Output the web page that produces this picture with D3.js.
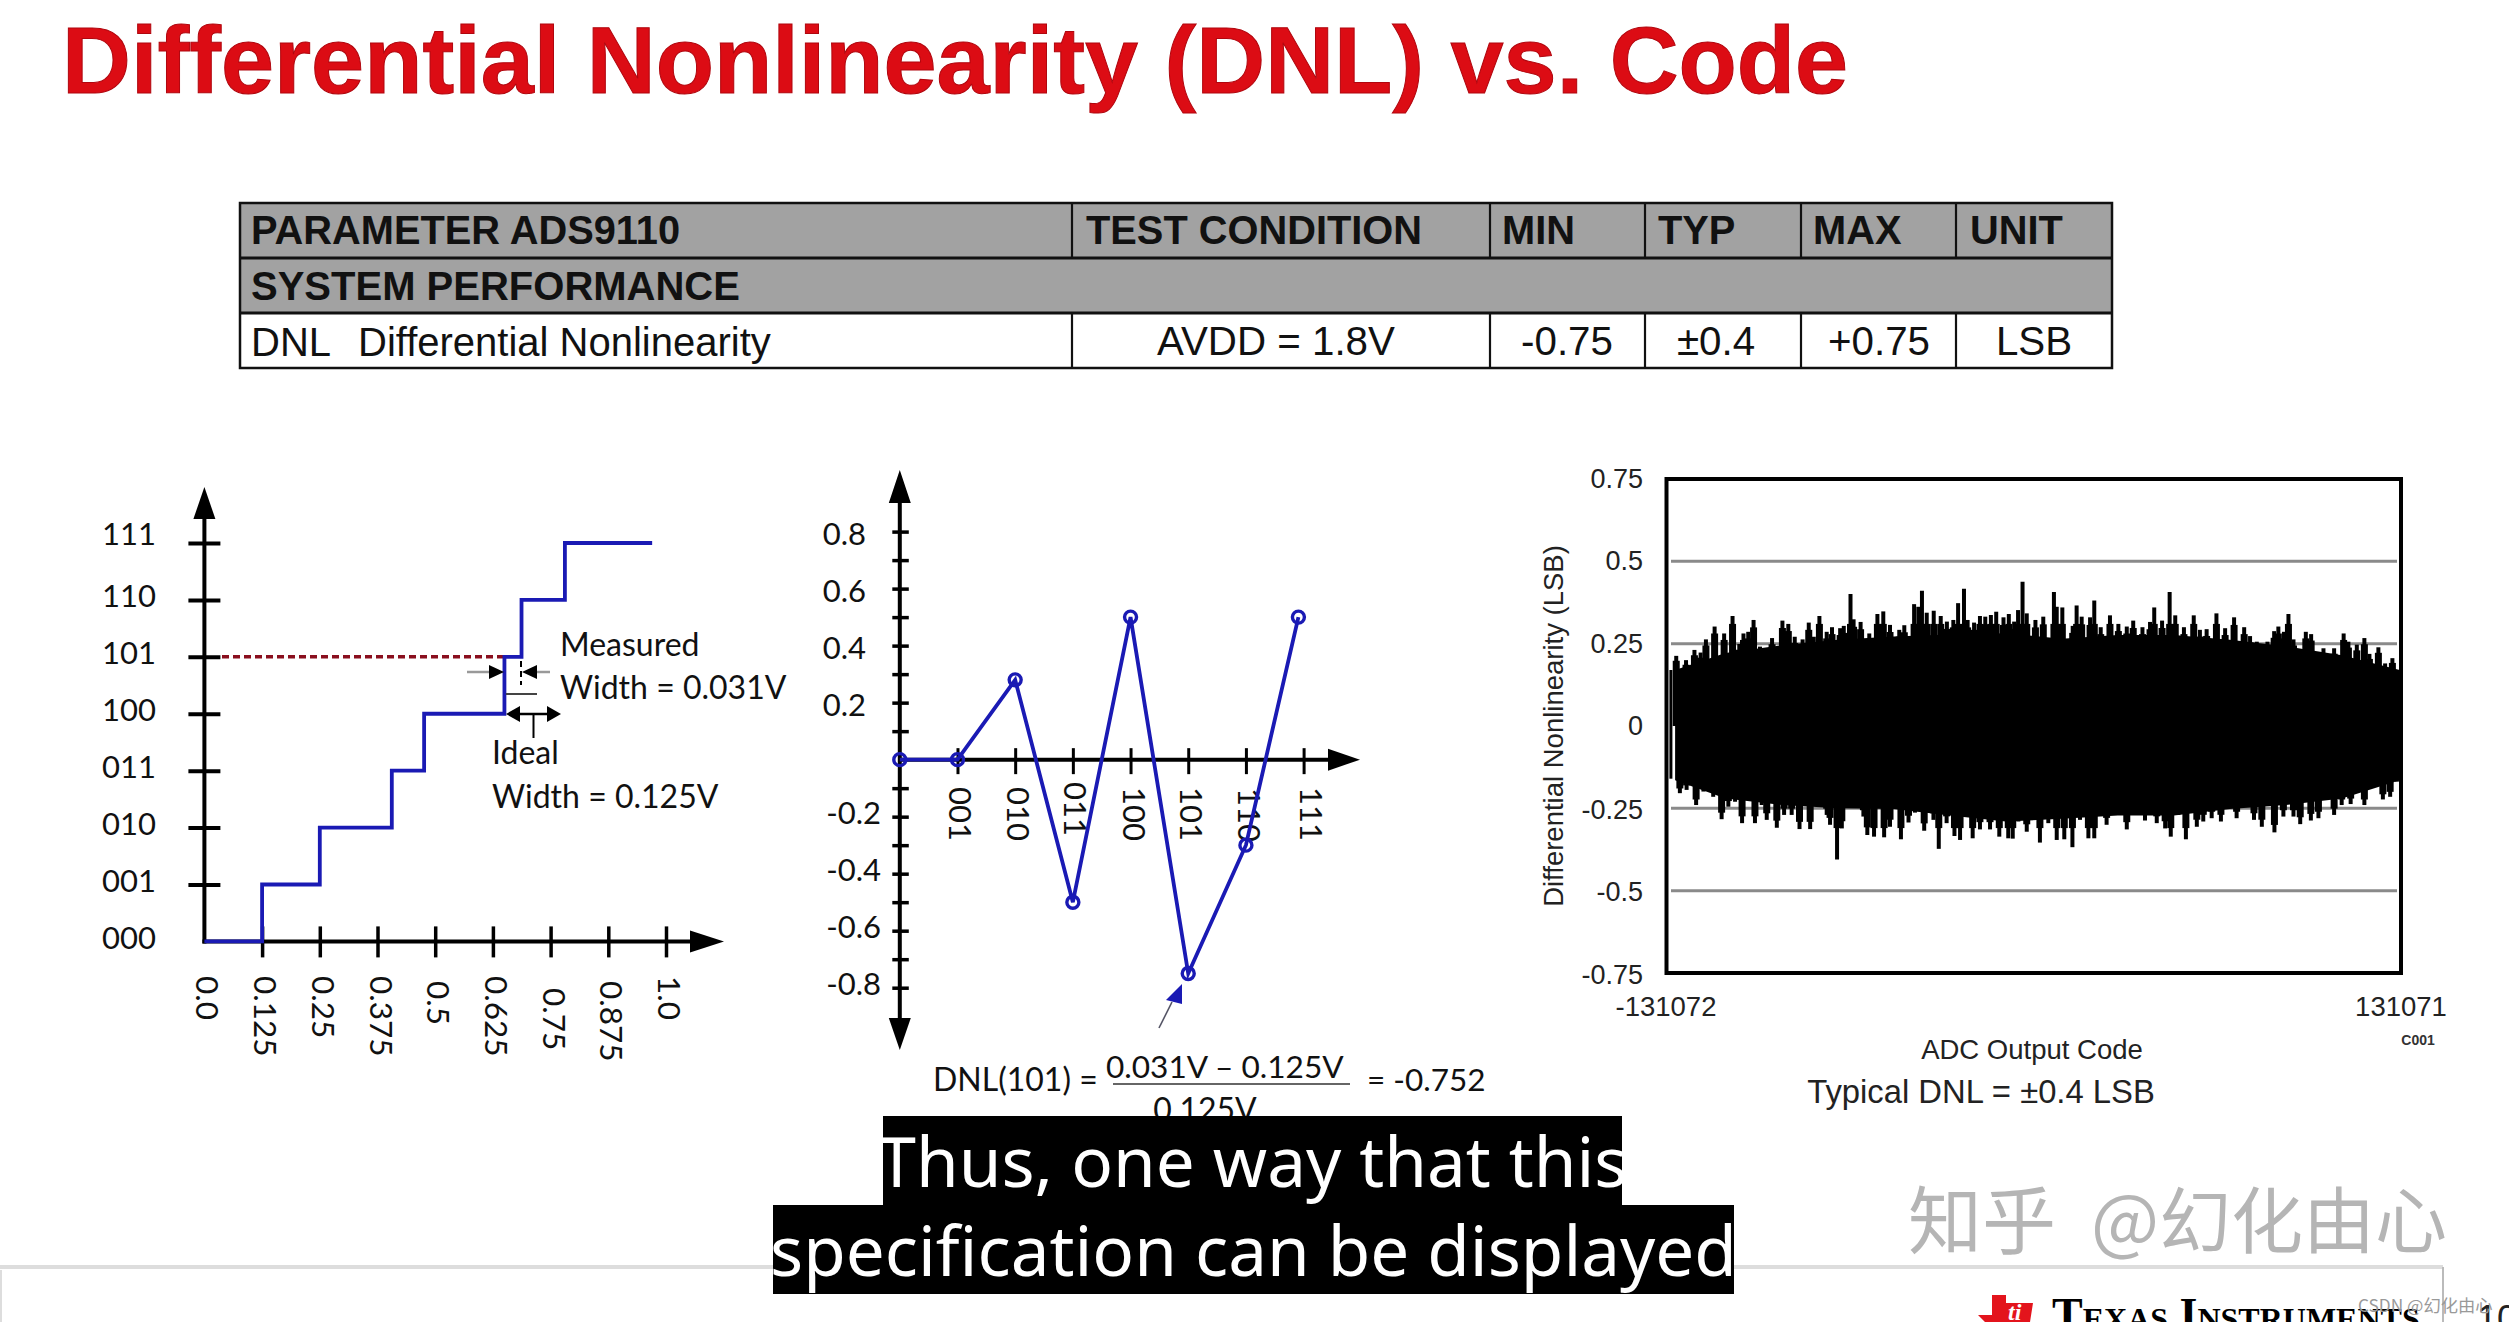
<!DOCTYPE html>
<html><head><meta charset="utf-8">
<script src="https://cdn.jsdelivr.net/npm/d3@7/dist/d3.min.js"></script>
<style>html,body{margin:0;padding:0;background:#fff;overflow:hidden}svg{display:block}</style>
</head><body><svg id="c" width="2509" height="1322"></svg>
<script>
// ---- text
const titleText = "Differential Nonlinearity (DNL) vs. Code";
const tableHeader = ["PARAMETER ADS9110","TEST CONDITION","MIN","TYP","MAX","UNIT"];
const tableSection = "SYSTEM PERFORMANCE";
const tableRow = ["DNL  Differential Nonlinearity","AVDD = 1.8V","-0.75","±0.4","+0.75","LSB"];
const subtitleLines = ["Thus, one way that this","specification can be displayed"];
// ---- transfer function (left chart)
const codeLabels = ["000","001","010","011","100","101","110","111"];
const voltTicks = [0,0.125,0.25,0.375,0.5,0.625,0.75,0.875,1.0];
const voltLabels = ["0.0","0.125","0.25","0.375","0.5","0.625","0.75","0.875","1.0"];
const stepVolts = [0,0.125,0.25,0.406,0.476,0.65,0.687,0.781,0.97];
const stepCodes = ["000","000","001","010","011","100","101","110","111"];
// ---- DNL vs code (middle chart)
const dnlCodes = ["000","001","010","011","100","101","110","111"];
const dnlPositions = [0,1,2,3,4,5,6,6.91];
const dnlValues = [0,0,0.28,-0.5,0.5,-0.75,-0.3,0.5];
const dnlMajor = [0.8,0.6,0.4,0.2,-0.2,-0.4,-0.6,-0.8];
const dnlMinor = [0.7,0.5,0.3,0.1,-0.1,-0.3,-0.5,-0.7];
// ---- measured DNL (right chart), codes in thousands
const mTicks = [0.75,0.5,0.25,0,-0.25,-0.5,-0.75];
const mTickLabels = ["0.75","0.5","0.25","0","-0.25","-0.5","-0.75"];
const mGrid = [0.5,0.25,-0.25,-0.5];
const bodyCodes = [-128,-110,-90,-70,-50,-30,-10,10,30,50,70,90,110,130.6];
const bodyUpper = [0.17,0.222,0.245,0.262,0.272,0.278,0.282,0.265,0.276,0.276,0.262,0.242,0.215,0.17];
const bodyLower = [-0.165,-0.22,-0.24,-0.25,-0.252,-0.272,-0.29,-0.282,-0.272,-0.272,-0.252,-0.24,-0.22,-0.165];
const edgeCode = -129.5, edgeTop = 0.17, edgeBottom = -0.16;
const upCodes = [-127.6,-127.4,-124.1,-121.1,-118.9,-117,-113.9,-110.5,-107.5,-105.1,-103.6,-101.9,-100,-97.7,-95.8,-93.4,-89.7,-87.6,-85.3,-82.5,-80.3,-78.5,-76.5,-73.9,-72,-69.1,-67.8,-65.4,-64.3,-61.8,-58.7,-55.8,-53.7,-51.3,-48,-46.2,-42.7,-41.2,-39.9,-38.2,-35.7,-33.2,-31,-28.7,-27,-24.9,-23.6,-21.3,-19.2,-17.3,-15.3,-13.4,-10.8,-8.9,-7,-5.6,-4,-2.5,0.6,3.4,7.2,8.2,10.2,13.9,15.3,17.1,20.1,21.6,23.9,27.2,30.2,33.2,35.5,38.8,41.5,43,45.8,48.5,50.5,53.6,57.1,59.3,61.7,65.2,68.3,71.5,75.1,77.2,79.6,83.4,85.8,87.3,89.3,90.9,92.7,97.1,99,103.4,107.2,110.6,112.3,115.3,118,119.8,123,125.4,128,130.2];
const upValues = [0.213,0.18,0.2,0.231,0.223,0.263,0.302,0.281,0.334,0.249,0.281,0.286,0.322,0.241,0.236,0.267,0.32,0.31,0.271,0.263,0.314,0.271,0.334,0.286,0.3,0.297,0.304,0.401,0.324,0.316,0.281,0.34,0.348,0.307,0.292,0.306,0.37,0.362,0.411,0.344,0.35,0.334,0.317,0.322,0.373,0.417,0.322,0.314,0.334,0.332,0.337,0.347,0.33,0.34,0.317,0.352,0.438,0.342,0.322,0.332,0.407,0.362,0.36,0.304,0.366,0.332,0.33,0.381,0.3,0.336,0.31,0.302,0.32,0.3,0.316,0.36,0.32,0.407,0.336,0.3,0.336,0.292,0.294,0.342,0.297,0.33,0.3,0.273,0.256,0.256,0.288,0.302,0.286,0.34,0.263,0.286,0.279,0.236,0.236,0.281,0.256,0.247,0.267,0.219,0.239,0.19,0.206,0.17];
const lowCodes = [-126.3,-123.9,-120.5,-117.9,-114.4,-111.4,-109,-106.6,-104.1,-101.9,-99.5,-97.1,-95.3,-91.7,-90.6,-89.1,-86.4,-83.6,-79.8,-77.7,-73.9,-72.7,-70.2,-68.5,-65,-60.8,-59.4,-57,-53.4,-51.3,-49.1,-47.4,-44.7,-42.4,-39.1,-35.8,-33.9,-31.1,-28.3,-26.3,-23.9,-21.8,-19.2,-15.6,-12.3,-9.1,-7.5,-5.5,-2.5,-1.3,2.2,5.2,8.2,10.9,13.8,16.5,19.5,21.6,23.6,26,29.6,33.2,37.3,39.7,43.9,46.9,48.9,51.6,54.3,55.8,58.2,60.5,63.5,65,66.8,72.4,74.8,78.6,81.4,83.8,85.9,87.9,89.1,92.7,95.1,97.8,98.9,101.6,105.2,107.2,109.9,111.1,113.1,118,121.5,124.6,127.2,129.6];
const lowValues = [-0.204,-0.194,-0.24,-0.199,-0.215,-0.283,-0.245,-0.23,-0.295,-0.22,-0.295,-0.24,-0.285,-0.309,-0.22,-0.27,-0.27,-0.313,-0.313,-0.235,-0.27,-0.3,-0.405,-0.311,-0.235,-0.275,-0.331,-0.336,-0.338,-0.306,-0.245,-0.344,-0.293,-0.263,-0.318,-0.285,-0.373,-0.295,-0.334,-0.346,-0.25,-0.341,-0.314,-0.314,-0.336,-0.341,-0.342,-0.29,-0.321,-0.255,-0.354,-0.295,-0.346,-0.344,-0.368,-0.285,-0.341,-0.341,-0.265,-0.3,-0.255,-0.314,-0.247,-0.287,-0.295,-0.311,-0.336,-0.27,-0.344,-0.235,-0.306,-0.29,-0.28,-0.225,-0.29,-0.28,-0.24,-0.285,-0.306,-0.23,-0.323,-0.23,-0.275,-0.275,-0.298,-0.215,-0.287,-0.28,-0.21,-0.27,-0.24,-0.194,-0.237,-0.24,-0.179,-0.223,-0.215,-0.169];

const svg = d3.select("#c");
const SANS = "'Liberation Sans',Arial,sans-serif", CAL = "Lato,sans-serif";
const BLUE = "#1a1ab4";
function text(g,s,x,y,size,opt={}){
  return g.append("text").text(s).attr("x",x).attr("y",y).attr("font-size",size)
    .attr("font-family",opt.font||SANS).attr("font-weight",opt.weight||"normal")
    .attr("fill",opt.fill||"#111").attr("text-anchor",opt.anchor||"start")
    .attr("dominant-baseline",opt.base||"central").style("white-space","pre");
}
function tri(g,pts,fill){g.append("path").attr("d",d3.line()(pts)+"Z").attr("fill",fill||"#000");}

// title
svg.append("text").text(titleText).attr("x",62).attr("y",92.5).attr("font-family",SANS)
  .attr("font-weight","bold").attr("font-size",95.4).attr("fill","#dc0c14")
  .attr("stroke","#b0060e").attr("stroke-width",1);

// table
const tb = svg.append("g");
const colX = [240,1072,1490,1645,1801,1956,2112];
const rowY = [203,258,313,368];
tb.append("rect").attr("x",colX[0]).attr("y",rowY[0]).attr("width",colX[6]-colX[0]).attr("height",rowY[2]-rowY[0]).attr("fill","#a2a2a2");
tb.append("rect").attr("x",colX[0]).attr("y",rowY[0]).attr("width",colX[6]-colX[0]).attr("height",rowY[3]-rowY[0]).attr("fill","none").attr("stroke","#111").attr("stroke-width",2.5);
rowY.slice(1,3).forEach(y=>tb.append("line").attr("x1",colX[0]).attr("x2",colX[6]).attr("y1",y).attr("y2",y).attr("stroke","#111").attr("stroke-width",3));
colX.slice(1,6).forEach(x=>{
  [[rowY[0],rowY[1]],[rowY[2],rowY[3]]].forEach(r=>tb.append("line").attr("x1",x).attr("x2",x).attr("y1",r[0]).attr("y2",r[1]).attr("stroke","#111").attr("stroke-width",2.2));
});
const hdrX = [251,1086,1502,1658,1813,1970];
tableHeader.forEach((s,i)=>text(tb,s,hdrX[i],230,39.8,{weight:"bold"}));
text(tb,tableSection,251,285.5,40,{weight:"bold"});
const rowFirst = tableRow[0].split("  ");
text(tb,rowFirst[0],251,341.5,40);
text(tb,rowFirst[1],358,341.5,40);
const rowCx = [0,1276,1567,1716,1879,2034];
tableRow.slice(1).forEach((s,i)=>text(tb,s,rowCx[i+1],341.5,40.3,{anchor:"middle"}));

// ---- left chart
const L = svg.append("g");
const lx = d3.scaleLinear().domain([0,1]).range([204.4,666]);
const ly = d3.scalePoint().domain(codeLabels).range([941.4,543]);
const lBlack = {stroke:"#000","stroke-width":4};
function styleLines(sel,a){Object.entries(a).forEach(([k,v])=>sel.attr(k,v));}
const lyAxis = L.append("g").attr("transform",`translate(${lx(0)},0)`).call(d3.axisLeft(ly).tickSize(0).tickFormat(""));
lyAxis.select(".domain").remove();
lyAxis.selectAll(".tick").filter(d=>d!=="000").select("line").attr("x1",-16).attr("x2",16).attr("stroke","#000").attr("stroke-width",4);
const lxAxis = L.append("g").attr("transform",`translate(0,${ly("000")})`).call(d3.axisBottom(lx).tickValues(voltTicks.slice(1)).tickSize(0).tickFormat(""));
lxAxis.select(".domain").remove();
lxAxis.selectAll(".tick line").attr("y1",-15).attr("y2",16).attr("stroke","#000").attr("stroke-width",3.5);
styleLines(L.append("line").attr("x1",lx(0)).attr("x2",lx(0)).attr("y1",ly("000")+2).attr("y2",518),lBlack);
styleLines(L.append("line").attr("x1",lx(0)-2).attr("x2",692).attr("y1",ly("000")).attr("y2",ly("000")),lBlack);
tri(L,[[lx(0),487],[lx(0)-11,519],[lx(0)+11,519]]);
tri(L,[[724,ly("000")],[690,ly("000")-11],[690,ly("000")+11]]);
const codeLabelDy = [-4,-4.5,-4.5,-4.5,-4.5,-4.5,-4.5,-10.5];
codeLabels.forEach((c,i)=>text(L,c,129,ly(c)+codeLabelDy[i],31,{font:CAL,anchor:"middle"}));
const vLabelY = [976,976,976,976,981,976,988,981,976];
voltLabels.forEach((s,i)=>{
  text(L,s,0,0,31.5,{font:CAL}).attr("x",null).attr("y",null)
   .attr("transform",`translate(${lx(voltTicks[i])+4},${vLabelY[i]}) rotate(90)`);
});
L.append("line").attr("x1",222).attr("x2",503).attr("y1",ly("101")).attr("y2",ly("101"))
 .attr("stroke","#8a0f1e").attr("stroke-width",3.5).attr("stroke-dasharray","7 4");
L.append("path").datum(stepVolts.map((v,i)=>[v,stepCodes[i]]))
 .attr("d",d3.line().x(d=>lx(d[0])).y(d=>ly(d[1])).curve(d3.curveStepBefore))
 .attr("fill","none").attr("stroke",BLUE).attr("stroke-width",3.8);
// width annotations
L.append("line").attr("x1",467).attr("x2",490).attr("y1",672).attr("y2",672).attr("stroke","#999").attr("stroke-width",2.5);
tri(L,[[504,672],[489,665],[489,679]]);
L.append("line").attr("x1",537).attr("x2",550).attr("y1",672).attr("y2",672).attr("stroke","#999").attr("stroke-width",2.5);
tri(L,[[522,672],[537,665],[537,679]]);
L.append("line").attr("x1",521).attr("x2",521).attr("y1",661).attr("y2",685).attr("stroke","#000").attr("stroke-width",2).attr("stroke-dasharray","6 4");
L.append("line").attr("x1",506).attr("x2",537).attr("y1",694).attr("y2",694).attr("stroke","#444").attr("stroke-width",2);
L.append("line").attr("x1",510).attr("x2",556).attr("y1",714).attr("y2",714).attr("stroke","#000").attr("stroke-width",2.5);
tri(L,[[506,714],[520,706],[520,722]]);
tri(L,[[561,714],[547,706],[547,722]]);
L.append("line").attr("x1",533.5).attr("x2",533.5).attr("y1",714).attr("y2",738).attr("stroke","#000").attr("stroke-width",2);
text(L,"Measured",560,643,32,{font:CAL});
text(L,"Width = 0.031V",560,686,32,{font:CAL});
text(L,"Ideal",492,751,32,{font:CAL});
text(L,"Width = 0.125V",492,795,32,{font:CAL});

// ---- middle chart
const M = svg.append("g");
const mx = d3.scalePoint().domain(dnlCodes).range([899.8,1303.6]);
const mPos = d3.scaleLinear().domain([0,7]).range([899.8,1303.6]);
const my = d3.scaleLinear().domain([0.8,-0.8]).range([531.6,987.7]);
const myAxis = M.append("g").attr("transform",`translate(${mx("000")},0)`)
  .call(d3.axisLeft(my).tickValues(dnlMajor.concat(dnlMinor)).tickSize(0).tickFormat(""));
myAxis.select(".domain").remove();
myAxis.selectAll(".tick line").attr("x1",-7.5).attr("x2",9).attr("stroke","#000").attr("stroke-width",3.5);
const mxAxis = M.append("g").attr("transform",`translate(0,${my(0)})`)
  .call(d3.axisBottom(mx).tickValues(dnlCodes.slice(1)).tickSize(0).tickFormat(""));
mxAxis.select(".domain").remove();
mxAxis.selectAll(".tick line").attr("y1",-11.5).attr("y2",14.5).attr("stroke","#000").attr("stroke-width",3);
styleLines(M.append("line").attr("x1",mx("000")).attr("x2",mx("000")).attr("y1",500).attr("y2",1020),lBlack);
styleLines(M.append("line").attr("x1",mx("000")).attr("x2",1330).attr("y1",my(0)).attr("y2",my(0)),lBlack);
tri(M,[[mx("000"),470],[mx("000")-11,503],[mx("000")+11,503]]);
tri(M,[[mx("000"),1050],[mx("000")-11,1018],[mx("000")+11,1018]]);
tri(M,[[1360,my(0)],[1328,my(0)-11],[1328,my(0)+11]]);
dnlMajor.forEach(v=>text(M,v.toFixed(1),v>0?866:881,my(v)+(v>0?1.5:-5),31,{font:CAL,anchor:"end"}));
const cLabelY = [0,787,787,782,787,787,788,787];
const cLabelDx = [0,4,4,3,4,4,4,8];
dnlCodes.slice(1).forEach((c,i)=>{
  text(M,c,0,0,31,{font:CAL}).attr("x",null).attr("y",null)
   .attr("transform",`translate(${mx(c)+cLabelDx[i+1]},${cLabelY[i+1]}) rotate(90)`);
});
M.append("path").datum(dnlValues).attr("d",d3.line().x((d,i)=>mPos(dnlPositions[i])).y(d=>my(d)))
 .attr("fill","none").attr("stroke",BLUE).attr("stroke-width",3.8);
M.selectAll("circle").data(dnlValues).join("circle").attr("cx",(d,i)=>mPos(dnlPositions[i])).attr("cy",d=>my(d))
 .attr("r",6).attr("fill","none").attr("stroke",BLUE).attr("stroke-width",3.4);
M.append("line").attr("x1",1159).attr("y1",1028).attr("x2",1172).attr("y2",1002).attr("stroke","#556").attr("stroke-width",1.6);
tri(M,[[1182,984],[1166,1000],[1182,1004]],BLUE);
// formula
text(M,"DNL(101) =",933,1078,32,{font:CAL});
text(M,"0.031V – 0.125V",1106,1066,31.6,{font:CAL});
M.append("line").attr("x1",1113).attr("x2",1350).attr("y1",1084).attr("y2",1084).attr("stroke","#666").attr("stroke-width",2);
text(M,"0.125V",1205,1108,32,{font:CAL,anchor:"middle"});
text(M,"= -0.752",1367,1079,31.5,{font:CAL});

// ---- right chart
const R = svg.append("g");
const rx = d3.scaleLinear().domain([-131.072,131.071]).range([1666.5,2401]);
const ry = d3.scaleLinear().domain([0.75,-0.75]).range([479,973]);
R.selectAll(".gr").data(mGrid).join("line").attr("x1",1671).attr("x2",2397)
 .attr("y1",d=>ry(d)).attr("y2",d=>ry(d)).attr("stroke","#8a8a8a").attr("stroke-width",3);
const area = d3.area().x((d,i)=>rx(bodyCodes[i])).y0((d,i)=>ry(bodyLower[i])).y1(d=>ry(d));
R.append("path").datum(bodyUpper).attr("d",area).attr("fill","#000");
R.append("line").attr("x1",rx(edgeCode)).attr("x2",rx(edgeCode)).attr("y1",ry(edgeTop)).attr("y2",ry(edgeBottom)).attr("stroke","#000").attr("stroke-width",3);
// wide lower part of every spike, so the silhouette stays blocky as in the dense trace
R.selectAll(".upw").data(upCodes).join("line").attr("x1",d=>rx(d)).attr("x2",d=>rx(d)).attr("y1",ry(0))
 .attr("y2",(d,i)=>ry(Math.min(upValues[i]*0.93,0.31))).attr("stroke","#000").attr("stroke-width",7);
R.selectAll(".low").data(lowCodes).join("line").attr("x1",d=>rx(d)).attr("x2",d=>rx(d)).attr("y1",ry(0))
 .attr("y2",(d,i)=>ry(Math.max(lowValues[i]*0.93,-0.31))).attr("stroke","#000").attr("stroke-width",7);
R.selectAll(".up").data(upCodes).join("line").attr("x1",d=>rx(d)).attr("x2",d=>rx(d)).attr("y1",ry(0))
 .attr("y2",(d,i)=>ry(upValues[i])).attr("stroke","#000").attr("stroke-width",4);
R.selectAll(".lo").data(lowCodes).join("line").attr("x1",d=>rx(d)).attr("x2",d=>rx(d)).attr("y1",ry(0))
 .attr("y2",(d,i)=>ry(lowValues[i])).attr("stroke","#000").attr("stroke-width",4);
R.append("rect").attr("x",1666.5).attr("y",479).attr("width",734.5).attr("height",494).attr("fill","none").attr("stroke","#000").attr("stroke-width",4);
mTicks.forEach((v,i)=>text(R,mTickLabels[i],1643,ry(v)+(v<0?1.5:0),27,{anchor:"end",fill:"#222"}));
text(R,"-131072",1666,1006,27.5,{anchor:"middle",fill:"#222"});
text(R,"131071",2401,1006,27.5,{anchor:"middle",fill:"#222"});
text(R,"ADC Output Code",2032,1049,27.5,{anchor:"middle",fill:"#222"});
text(R,"C001",2418,1040,14,{anchor:"middle",weight:"bold",fill:"#333"});
text(R,"Typical DNL = ±0.4 LSB",1981,1091,32.8,{anchor:"middle",fill:"#222"});
text(R,"Differential Nonlinearity (LSB)",0,0,27.5,{anchor:"middle",fill:"#222"}).attr("x",null).attr("y",null)
 .attr("transform","translate(1553,726) rotate(-90)");

// ---- footer
const F = svg.append("g");
F.append("line").attr("x1",0).attr("x2",2443).attr("y1",1267).attr("y2",1267).attr("stroke","#ddd").attr("stroke-width",4);
F.append("line").attr("x1",2443).attr("x2",2443).attr("y1",1267).attr("y2",1322).attr("stroke","#bbb").attr("stroke-width",2);
F.append("line").attr("x1",1).attr("x2",1).attr("y1",1270).attr("y2",1322).attr("stroke","#ddd").attr("stroke-width",2);
text(F,"知乎",1908,1215,74,{font:"'Noto Sans CJK SC'",fill:"#b5b5b5"});
text(F,"@幻化由心",2091,1215,72,{font:"'Noto Sans CJK SC'",fill:"#b5b5b5"});
tri(F,[[1992,1295],[2006,1295],[2006,1303],[2033,1303],[2030,1322],[1985,1322],[1978,1315],[1992,1315]],"#e3141c");
text(F,"ti",2008,1320,24,{font:"'Liberation Serif',serif",weight:"bold",base:"auto",fill:"#fff"}).style("font-style","italic");
text(F,"Texas Instruments",2052,1330,46,{font:"'Liberation Serif',serif",weight:"bold",base:"auto",fill:"#000"}).style("font-variant","small-caps");
text(F,"10",2477,1331,36,{base:"auto",fill:"#222"});
text(F,"CSDN @幻化由心",2358,1304,17.3,{font:"'Noto Sans CJK SC'",fill:"#999"});

// ---- subtitle
const S = svg.append("g");
S.append("rect").attr("x",883).attr("y",1116).attr("width",739).attr("height",89).attr("fill","#000");
S.append("rect").attr("x",773).attr("y",1205).attr("width",961).attr("height",89).attr("fill","#000");
text(S,subtitleLines[0],1252.5,1187,69.2,{font:"'Noto Sans',sans-serif",anchor:"middle",base:"auto",fill:"#fff"});
text(S,subtitleLines[1],1253.5,1276,69.2,{font:"'Noto Sans',sans-serif",anchor:"middle",base:"auto",fill:"#fff"});
</script></body></html>
